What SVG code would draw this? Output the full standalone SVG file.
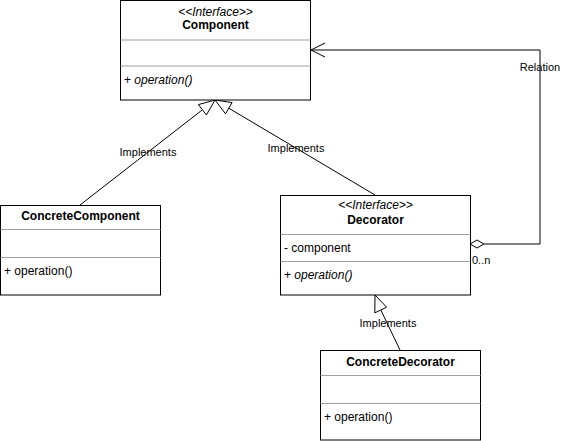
<svg xmlns="http://www.w3.org/2000/svg" width="561" height="441" viewBox="0 0 561 441">
<style>
.box{fill:#fff;stroke:#000;stroke-width:1}
.div{stroke:#a0a0a0;stroke-width:1}
.t{font-family:"Liberation Sans",Arial,sans-serif;font-size:12px;fill:#000}
.b{font-weight:bold}
.i{font-style:italic}
.s{font-family:"Liberation Sans",Arial,sans-serif;font-size:11px;fill:#000}
.c{text-anchor:middle}
.e{fill:none;stroke:#000;stroke-width:1}
.tri{fill:#fff;stroke:#000;stroke-width:1}
</style>
<rect width="561" height="441" fill="#fff"/>
<g id="connectors">
  <line class="e" x1="80" y1="205" x2="202.4" y2="109.8"/>
  <polygon class="tri" points="215,100 198.4,104.6 206.4,115"/>
  <line class="e" x1="375" y1="195" x2="228.8" y2="108.2"/>
  <polygon class="tri" points="215,100 232.1,102.6 225.5,113.8"/>
  <line class="e" x1="400" y1="350" x2="380.8" y2="310"/>
  <polygon class="tri" points="375,295 374.8,312.9 386.6,307.2"/>
  <polyline class="e" points="484,244 540,244 540,50 311,50"/>
  <polyline class="e" points="325,43 311,50 325,57"/>
  <polygon class="tri" points="470,244 477,240 484,244 477,248"/>
  <text class="s c" x="148" y="156">Implements</text>
  <text class="s c" x="296" y="152">Implements</text>
  <text class="s c" x="388" y="327">Implements</text>
  <text class="s c" x="540" y="71">Relation</text>
  <text class="s" x="309" y="67" text-anchor="end">1</text>
  <text class="s" x="472" y="264">0..n</text>
</g>
<g id="Component">
  <rect class="box" x="120.5" y="0.5" width="190" height="99.5"/>
  <line class="div" x1="120.5" y1="40" x2="310.5" y2="40"/>
  <line class="div" x1="120.5" y1="66" x2="310.5" y2="66"/>
  <text class="t i c" x="215.5" y="16">&lt;&lt;Interface&gt;&gt;</text>
  <text class="t b c" x="215.5" y="29">Component</text>
  <text class="t" x="124" y="84">+ <tspan class="i">operation()</tspan></text>
</g>
<g id="ConcreteComponent">
  <rect class="box" x="0.5" y="205.5" width="160" height="89.5"/>
  <line class="div" x1="0.5" y1="229.5" x2="160.5" y2="229.5"/>
  <line class="div" x1="0.5" y1="257.5" x2="160.5" y2="257.5"/>
  <text class="t b c" x="80.5" y="220">ConcreteComponent</text>
  <text class="t" x="4" y="275">+ operation()</text>
</g>
<g id="Decorator">
  <rect class="box" x="280.5" y="195.5" width="190" height="99.5"/>
  <line class="div" x1="280.5" y1="234.5" x2="470.5" y2="234.5"/>
  <line class="div" x1="280.5" y1="261.5" x2="470.5" y2="261.5"/>
  <text class="t i c" x="375.5" y="209">&lt;&lt;Interface&gt;&gt;</text>
  <text class="t b c" x="375.5" y="224">Decorator</text>
  <text class="t" x="284" y="252">- component</text>
  <text class="t" x="284" y="279">+ <tspan class="i">operation()</tspan></text>
</g>
<g id="ConcreteDecorator">
  <rect class="box" x="320.5" y="350.5" width="160" height="89.5"/>
  <line class="div" x1="320.5" y1="375.5" x2="480.5" y2="375.5"/>
  <line class="div" x1="320.5" y1="403.5" x2="480.5" y2="403.5"/>
  <text class="t b c" x="400.5" y="366">ConcreteDecorator</text>
  <text class="t" x="324" y="421">+ operation()</text>
</g>
</svg>
